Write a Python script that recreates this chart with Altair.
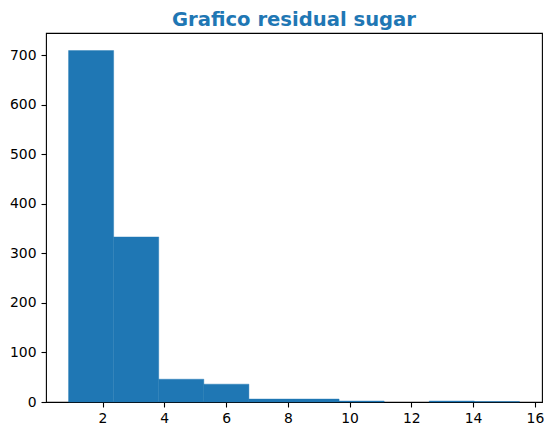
import altair as alt
import pandas as pd

# Histogram of residual sugar: bin edges and counts
bin_edges = [0.9, 2.36, 3.82, 5.28, 6.74, 8.2, 9.66, 11.12, 12.58, 14.04, 15.5]
counts = [709, 333, 46, 36, 6, 6, 2, 0, 2, 1]
x_ticks = [2, 4, 6, 8, 10, 12, 14, 16]
y_ticks = [0, 100, 200, 300, 400, 500, 600, 700]
title_text = "Grafico residual sugar"

df = pd.DataFrame({
    "start": bin_edges[:-1],
    "end": bin_edges[1:],
    "count": counts,
})
df = df[df["count"] > 0]

FONT = "DejaVu Sans"

bars = alt.Chart(df).mark_rect(color="#1f77b4", stroke="#1f77b4", strokeWidth=0.4).encode(
    x=alt.X("start:Q",
            scale=alt.Scale(domain=[0.17, 16.23], nice=False, zero=False),
            axis=alt.Axis(values=x_ticks, format="d", title=None, grid=False,
                          tickSize=5, labelPadding=4, domain=False,
                          tickColor="black", tickWidth=1.1,
                          labelColor="black", labelFont=FONT, labelFontSize=13.9,
                          labelFlush=False, labelOverlap=False)),
    x2="end:Q",
    y=alt.Y("count:Q",
            scale=alt.Scale(domain=[0, 744.45], nice=False),
            axis=alt.Axis(values=y_ticks, title=None, grid=False,
                          tickSize=5, labelPadding=5, domain=False,
                          tickColor="black", tickWidth=1.1,
                          labelColor="black", labelFont=FONT, labelFontSize=13.9,
                          labelFlush=False, labelOverlap=False)),
    y2=alt.datum(0),
)

chart = bars.properties(
    width=496,
    height=369,
    background="white",
    title=alt.TitleParams(title_text, font=FONT, fontSize=19.6, fontWeight="bold",
                          color="#1f77b4", anchor="middle", baseline="alphabetic",
                          offset=7, dy=20),
    autosize=alt.AutoSizeParams(type="none"),
    padding={"left": 38, "top": 25, "right": 3, "bottom": 25},
).configure_view(
    stroke="black", strokeWidth=1.1
)

chart.save("out.html", embed_options={"renderer": "svg", "actions": False})
